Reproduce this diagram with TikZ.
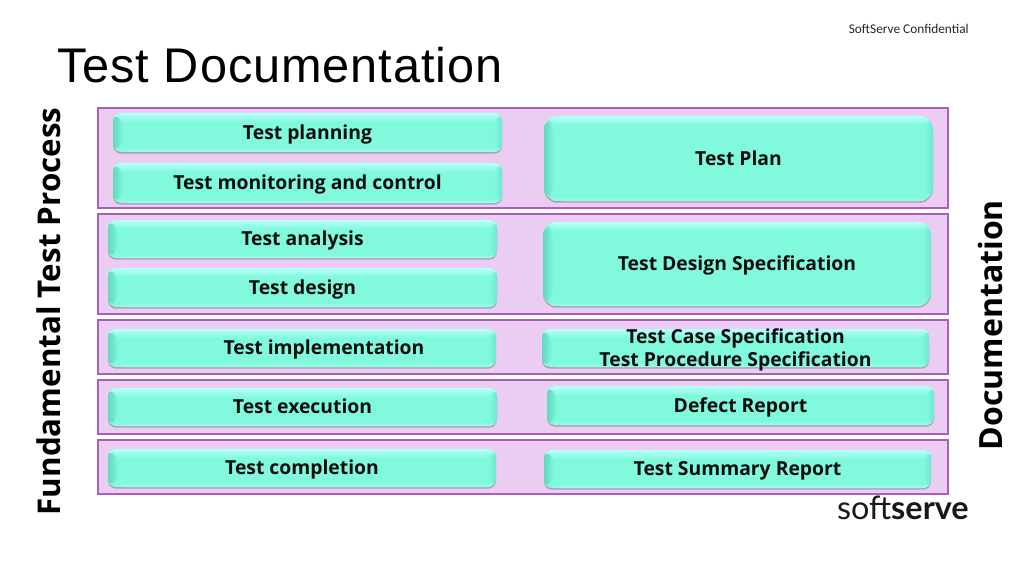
\documentclass[tikz,border=0pt]{standalone}
\usepackage{fontspec}
\setmainfont{Open Sans}
\newfontfamily\lato{Lato}
\newfontfamily\carlito{Carlito}
\newfontfamily\titlefont[LetterSpace=2]{Liberation Sans}
\usetikzlibrary{shadows,calc}
\definecolor{bandfill}{HTML}{EBCDF3}
\definecolor{bandline}{HTML}{A860B8}
\definecolor{boxtop}{HTML}{B8FFFC}
\definecolor{boxmid}{HTML}{80F9DC}
\definecolor{bevel}{HTML}{62D8BE}
\definecolor{bevelr}{HTML}{70E8CE}
\tikzset{
  x=0.75pt,y=-0.75pt,
  band/.style={draw=bandline,line width=0.9pt,fill=bandfill},
  tbox/.style={anchor=center,inner sep=0pt,rounded corners=6pt,font=\bfseries\fontsize{14.5}{17.2}\selectfont,align=center,text=black!95,
    fill=boxmid,
    drop shadow={shadow xshift=0pt,shadow yshift=-1.3pt,opacity=.5,fill=black!55},
    path picture={
      \coordinate (nw) at (path picture bounding box.north west);
      \coordinate (ne) at (path picture bounding box.north east);
      \coordinate (sw) at (path picture bounding box.south west);
      \coordinate (se) at (path picture bounding box.south east);
      \shade[top color=boxtop,bottom color=boxmid] (nw) rectangle ($(ne)+(0,-7pt)$);
      \shade[left color=bevel,right color=boxmid] (nw) -- ($(nw)+(8pt,-7pt)$) -- ($(sw)+(8pt,6pt)$) -- (sw) -- cycle;
      \shade[left color=boxmid,right color=bevelr] ($(ne)+(-6pt,-7pt)$) -- (ne) -- (se) -- ($(se)+(-6pt,6pt)$) -- cycle;
      \shade[top color=boxmid,bottom color=boxtop!60!boxmid] ($(sw)+(6pt,3pt)$) rectangle (se);
    }},
  bigbox/.style={rounded corners=10pt},
}
\newcommand{\tb}[7][]{\node[tbox,#1,minimum width={(#5-#3)*0.75pt},minimum height={(#6-#4)*0.75pt}] (#2) at ({(#3+#5)/2},{(#4+#6)/2}) {\raisebox{-5.4pt}[0pt][0pt]{\begin{tabular}{@{}c@{}}#7\end{tabular}}};}
\begin{document}
\begin{tikzpicture}
\useasboundingbox (0,0) rectangle (1024,574);
\fill[white] (0,0) rectangle (1024,574);
\foreach \a/\b in {108/208,214/314,320/374,380/434,440/494}{
  \draw[band] (98,\a) rectangle (948,\b);
}
\tb{planning}{113}{113}{502}{152}{Test planning}
\tb{monitor}{113}{163}{502}{203}{Test monitoring and control}
\tb{analysis}{108}{220}{497}{258}{Test analysis}
\tb{design}{108}{268}{497}{307}{Test design}
\tb{impl}{108}{329}{496}{367}{\hspace*{33pt}Test implementation}
\tb{exec}{108}{388}{497}{426}{Test execution}
\tb{compl}{108}{449}{496}{487}{Test completion}
\tb[bigbox]{plan}{544}{116}{933}{201}{Test Plan}
\tb[bigbox]{tds}{543}{222}{931}{306}{Test Design Specification}
\tb{tcs}{542}{329}{929}{367}{Test Case Specification\\[0.7pt]Test Procedure Specification}
\tb{defect}{547}{386}{934}{425}{Defect Report}
\tb{summary}{544}{450}{931}{488}{Test Summary Report}
\node[anchor=west,inner sep=0pt,font=\titlefont\fontsize{36.5}{40}\selectfont,text=black] (title) at (57,65) {Test Documentation};
\node[anchor=east,inner sep=0pt,font=\carlito\fontsize{10}{12}\selectfont,text=black!85] (conf) at (969,29) {SoftServe Confidential};
\node[rotate=90,inner sep=0pt,font=\bfseries\fontsize{23.5}{26}\selectfont] (fund) at (49,311.5) {Fundamental Test Process};
\node[rotate=90,inner sep=0pt,font=\bfseries\fontsize{24}{26}\selectfont] (docu) at (990,325) {Documentation};
\node[anchor=east,inner sep=0pt,font=\lato\fontsize{24.3}{28}\selectfont,text=black!90] (logo) at (969,508) {soft{\bfseries serve}};
\end{tikzpicture}
\end{document}
